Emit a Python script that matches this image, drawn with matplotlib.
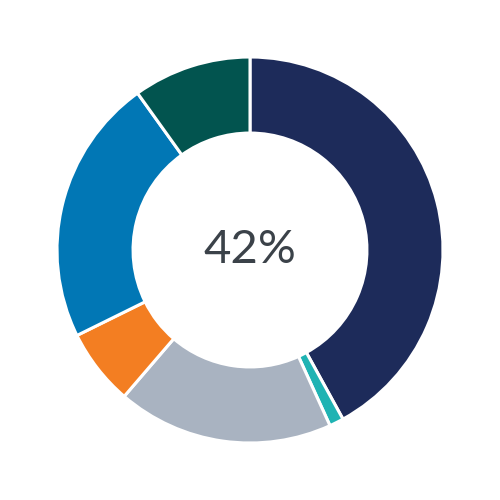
import matplotlib.pyplot as plt

# segment shares, clockwise from 12 o'clock
labels = ['Navy', 'Teal', 'Gray', 'Orange', 'Blue', 'Green']
shares = [42, 1.2, 18.1, 6.4, 22.4, 9.9]
colors = ['#1d2b5a', '#1fb3b3', '#a9b3c1', '#f37e22', '#0177b5', '#02544f']
center_text = '42%'

fig = plt.figure(figsize=(5, 5), dpi=100)
ax = fig.add_axes([0, 0, 1, 1])

ax.pie(shares, colors=colors, startangle=90, counterclock=False,
       radius=1, wedgeprops=dict(width=0.394, edgecolor='white', linewidth=2.2))

ax.text(0, 0, center_text, ha='center', va='center', fontsize=34,
        family='Lato', color='#3b4249')

lim = 250 / 193
ax.set_xlim(-lim, lim)
ax.set_ylim(-lim, lim)
ax.set_aspect('equal')
ax.axis('off')

fig.savefig('out.png', dpi=100, facecolor='white')
